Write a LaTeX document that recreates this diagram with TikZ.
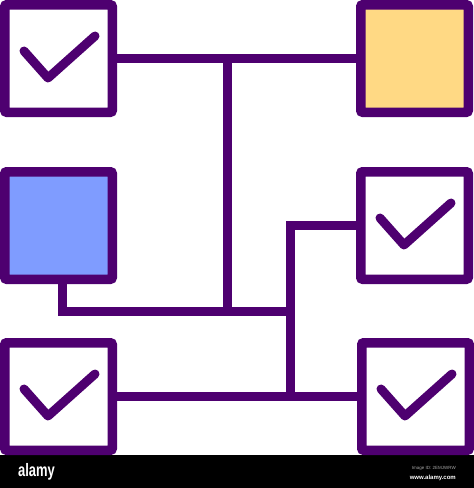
\documentclass[tikz,border=0pt]{standalone}
\usepackage{fontspec}
\setmainfont{Liberation Sans}
\usetikzlibrary{calc}
\definecolor{ink}{HTML}{4E0070}
\definecolor{sun}{HTML}{FFD984}
\definecolor{sky}{HTML}{7F9CFF}
\begin{document}
\begin{tikzpicture}[x=1pt,y=-1pt,
  box/.style={draw=ink, line width=9.5pt, minimum width=107.5pt, minimum height=107.5pt, inner sep=0pt, rounded corners=2pt, fill=white},
  link/.style={draw=ink, line width=9pt, line join=miter},
  tick/.style={draw=ink, line width=9pt, line cap=round, line join=round}]
\useasboundingbox (0,0) rectangle (474,488);
\fill[white] (0,0) rectangle (474,455);
\fill[black] (0,455) rectangle (474,488);
% junction points
\coordinate (tj) at (227,58.5);
\coordinate (mj) at (227,311);
\coordinate (bc) at (62,311);
\coordinate (rj) at (290.5,311);
\coordinate (rt) at (290.5,225.5);
\coordinate (rb) at (290.5,396.5);
% boxes
\node[box] (tl) at (58.5,58.5) {};
\node[box,fill=sun] (tr) at (414.5,58.5) {};
\node[box,fill=sky] (bm) at (58.5,225.5) {};
\node[box] (mr) at (414.5,225.5) {};
\node[box] (bl) at (58.5,396.5) {};
\node[box] (br) at (415.5,396.5) {};
% connectors
\draw[link] (tl.east) -- (tr.west);
\draw[link] (tj) -- (mj);
\draw[link] (bm.south -| bc) -- (bc) -- (rj);
\draw[link] (mr.west) -- (rt) -- (rb);
\draw[link] (bl.east) -- (br.west);
% check marks
\foreach \n in {tl,mr,bl,br}
  \draw[tick] ($(\n.center)+(-34.5,-7.5)$) -- ($(\n.center)+(-10.5,19.5)$) -- ($(\n.center)+(36.5,-22.5)$);
% footer
\node[text=white, font=\bfseries\fontsize{18}{18}\selectfont, xscale=0.72, anchor=base west, inner sep=0pt] (logo) at (18,476) {alamy};
\node[text=gray!70, font=\fontsize{4.5}{5}\selectfont, anchor=base east, inner sep=0pt] (iid) at (456,469) {Image ID: 2EMJWRW};
\node[text=white, font=\bfseries\fontsize{6}{6}\selectfont, anchor=base east, inner sep=0pt] (www) at (456,479) {www.alamy.com};
\end{tikzpicture}
\end{document}
